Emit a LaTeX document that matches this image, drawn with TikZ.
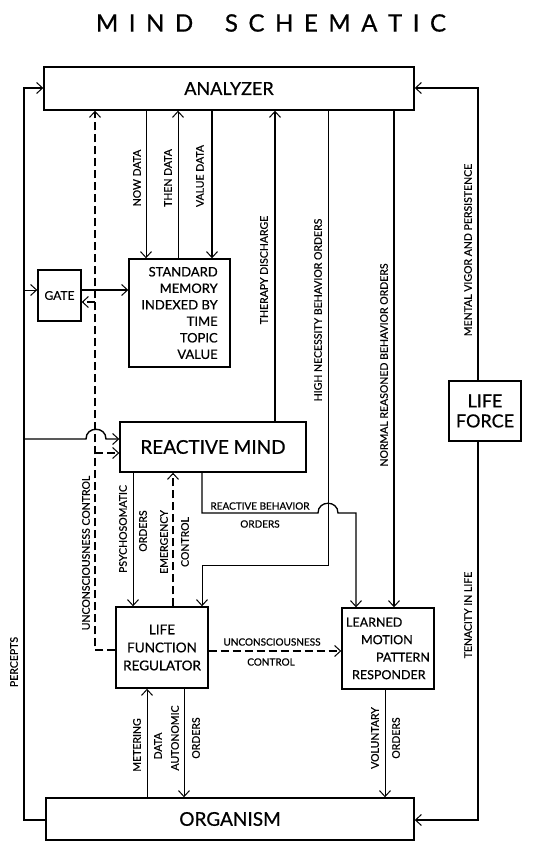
\documentclass[tikz,border=0pt]{standalone}
\usepackage{fontspec}
\setmainfont{Lato}[FakeBold=0.6]
\usetikzlibrary{arrows.meta}
\tikzset{
  box/.style={draw,line width=1.4pt,inner sep=0pt,align=center},
  lbl/.style={font=\fontsize{10.5}{12}\selectfont,rotate=90,inner sep=0pt},
  hlbl/.style={font=\fontsize{10}{12}\selectfont,inner sep=0pt},
  flow/.style={line width=1pt,-{Straight Barb[length=6pt,width=11pt,line width=1pt]}},
  heavy/.style={flow,line width=1.7pt},
  dsh/.style={flow,line width=1.6pt,dash pattern=on 8pt off 4pt},
}
\begin{document}
\begin{tikzpicture}[x=1pt,y=-1pt]
\useasboundingbox (0,0) rectangle (533,853);
% title
\node[inner sep=0pt,font=\fontsize{24}{26}\selectfont] (title) at (271,23)
  {\makebox[350pt][s]{M\hfil I\hfil N\hfil D\hskip 0pt plus 3fil S\hfil C\hfil H\hfil E\hfil M\hfil A\hfil T\hfil I\hfil C}};
% boxes
\node[box,minimum width=370pt,minimum height=43pt,font=\fontsize{18}{20}\selectfont] (analyzer) at (229,88.5) {ANALYZER};
\node[box,minimum width=43pt,minimum height=51pt,font=\fontsize{12}{13}\selectfont] (gate) at (59.5,295.5) {GATE};
\node[box,minimum width=101pt,minimum height=108pt,align=right,font=\fontsize{13}{16.5}\selectfont] (memory) at (179.5,313)
  {STANDARD\\MEMORY\\INDEXED BY\\TIME\\TOPIC\\VALUE};
\node[box,minimum width=186pt,minimum height=50pt,font=\fontsize{19}{20}\selectfont] (reactive) at (213,447) {REACTIVE MIND};
\node[box,minimum width=92pt,minimum height=81pt,font=\fontsize{13.5}{18}\selectfont] (lfr) at (162,647.5) {LIFE\\FUNCTION\\REGULATOR};
\node[box,minimum width=92pt,minimum height=81pt,align=left,font=\fontsize{12.5}{17.5}\selectfont] (lmpr) at (388,648.5)
  {LEARNED\\\hspace*{15pt}MOTION\\\hspace*{30pt}PATTERN\\\hspace*{6pt}RESPONDER};
\node[box,minimum width=368pt,minimum height=42pt,font=\fontsize{19}{20}\selectfont] (organism) at (230,819) {ORGANISM};
\node[box,minimum width=72pt,minimum height=60pt,font=\fontsize{18}{20}\selectfont] (lifeforce) at (485,411) {LIFE\\FORCE};
% percepts
\draw[flow,line width=1.4pt] (organism.west |- 0,820) -- (24,820) -- (24,88) -- (analyzer.west |- 0,88);
\node[lbl] (percepts) at (14,662) {PERCEPTS};
\draw[flow] (24,290) -- (gate.west |- 0,290);
\draw[flow,line width=1.4pt] (gate.east |- 0,290) -- (memory.west |- 0,290);
\draw[flow,line width=1.4pt] (24,439) -- (86,439) .. controls (86,426) and (106,426) .. (106,439) -- (reactive.west |- 0,439);
% unconsciousness control (vertical)
\draw[dsh] (lfr.west |- 0,650) -- (95,650) -- (analyzer.south -| 95,0);
\draw[dsh] (95,453) -- (reactive.west |- 0,453);
\draw[dsh] (95,302) -- (gate.east |- 0,302);
\node[lbl] (uc1) at (86,553) {UNCONSCIOUSNESS CONTROL};
% memory data
\draw[flow] (analyzer.south -| 146,0) -- (memory.north -| 146,0);
\node[lbl] (now) at (137,178) {NOW DATA};
\draw[flow] (memory.north -| 178,0) -- (analyzer.south -| 178,0);
\node[lbl] (then) at (168,178) {THEN DATA};
\draw[heavy] (analyzer.south -| 212,0) -- (memory.north -| 212,0);
\node[lbl] (value) at (200,176) {VALUE DATA};
% therapy discharge
\draw[heavy] (reactive.north -| 275,0) -- (analyzer.south -| 275,0);
\node[lbl] (therapy) at (264,270) {THERAPY DISCHARGE};
% high necessity
\draw[flow] (analyzer.south -| 328,0) -- (328,565) -- (202,565) -- (lfr.north -| 202,0);
\node[lbl] (high) at (318,310) {HIGH NECESSITY BEHAVIOR ORDERS};
% normal reasoned
\draw[heavy] (analyzer.south -| 394,0) -- (lmpr.north -| 394,0);
\node[lbl] (normal) at (384,365) {NORMAL REASONED BEHAVIOR ORDERS};
% life force
\draw[heavy] (lifeforce.north -| 478,0) -- (478,88) -- (analyzer.east |- 0,88);
\node[lbl] (vigor) at (468,250) {MENTAL VIGOR AND PERSISTENCE};
\draw[heavy] (lifeforce.south -| 478,0) -- (478,820) -- (organism.east |- 0,820);
\node[lbl] (tenacity) at (468,615) {TENACITY IN LIFE};
% reactive mind outputs
\draw[flow] (reactive.south -| 133,0) -- (lfr.north -| 133,0);
\node[lbl] (psy1) at (123,529) {PSYCHOSOMATIC};
\node[lbl] (psy2) at (143,531) {ORDERS};
\draw[dsh] (lfr.north -| 173,0) -- (reactive.south -| 173,0);
\node[lbl] (em1) at (164,542) {EMERGENCY};
\node[lbl] (em2) at (185,542) {CONTROL};
\draw[flow,line width=1.3pt] (reactive.south -| 202,0) -- (202,513) -- (318,513) .. controls (318,500) and (338,500) .. (338,513) -- (356,513) -- (lmpr.north -| 356,0);
\node[hlbl] (rb1) at (260,506) {REACTIVE BEHAVIOR};
\node[hlbl] (rb2) at (260,524) {ORDERS};
% LFR -> LMPR
\draw[dsh] (lfr.east |- 0,651) -- (lmpr.west |- 0,651);
\node[hlbl] (uc2) at (272,642) {UNCONSCIOUSNESS};
\node[hlbl] (uc3) at (271,662) {CONTROL};
% bottom
\draw[flow] (organism.north -| 147,0) -- (lfr.south -| 147,0);
\node[lbl] (met1) at (137,745) {METERING};
\node[lbl] (met2) at (158,746) {DATA};
\draw[flow] (lfr.south -| 184,0) -- (organism.north -| 184,0);
\node[lbl] (aut1) at (175,738) {AUTONOMIC};
\node[lbl] (aut2) at (196,738) {ORDERS};
\draw[flow] (lmpr.south -| 385,0) -- (organism.north -| 385,0);
\node[lbl] (vol1) at (375,738) {VOLUNTARY};
\node[lbl] (vol2) at (396,738) {ORDERS};
\end{tikzpicture}
\end{document}
